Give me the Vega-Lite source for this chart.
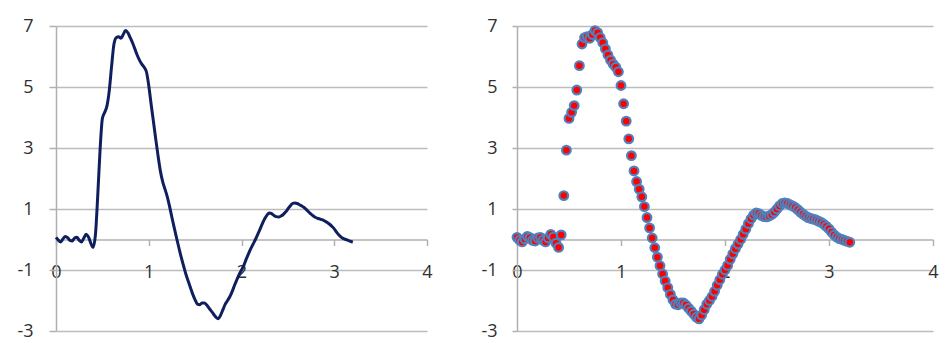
{
  "$schema": "https://vega.github.io/schema/vega-lite/v6.json",
  "background": "white",
  "padding": {"left": 16, "top": 17, "right": 0, "bottom": 4},
  "spacing": 47,
  "config": {
    "view": {"stroke": null},
    "axis": {
      "labelFont": "Open Sans",
      "labelFontSize": 18,
      "labelColor": "#303030",
      "labelFlush": false,
      "labelOverlap": false,
      "labelExpr": "'' + datum.value",
      "title": null,
      "domainColor": "#b0b0b0",
      "domainWidth": 1.5,
      "tickColor": "#b0b0b0",
      "tickWidth": 1.5,
      "gridColor": "#bcbcbc",
      "gridWidth": 1.5
    }
  },
  "datasets": {
    "d": [
      {"t": 0.000, "v": 0.07}, {"t": 0.025, "v": -0.02}, {"t": 0.050, "v": -0.08}, {"t": 0.075, "v": 0.02},
      {"t": 0.100, "v": 0.10}, {"t": 0.125, "v": 0.06}, {"t": 0.150, "v": -0.03}, {"t": 0.175, "v": -0.05},
      {"t": 0.200, "v": 0.05}, {"t": 0.225, "v": 0.07}, {"t": 0.250, "v": -0.02}, {"t": 0.275, "v": -0.08},
      {"t": 0.300, "v": 0.05}, {"t": 0.325, "v": 0.17}, {"t": 0.350, "v": 0.08}, {"t": 0.375, "v": -0.12},
      {"t": 0.400, "v": -0.26}, {"t": 0.425, "v": 0.15}, {"t": 0.450, "v": 1.44}, {"t": 0.475, "v": 2.93},
      {"t": 0.500, "v": 3.97}, {"t": 0.525, "v": 4.17}, {"t": 0.550, "v": 4.39}, {"t": 0.575, "v": 4.9},
      {"t": 0.600, "v": 5.7}, {"t": 0.625, "v": 6.41}, {"t": 0.650, "v": 6.62}, {"t": 0.675, "v": 6.65},
      {"t": 0.700, "v": 6.6}, {"t": 0.725, "v": 6.72}, {"t": 0.750, "v": 6.85}, {"t": 0.775, "v": 6.78},
      {"t": 0.800, "v": 6.62}, {"t": 0.825, "v": 6.45}, {"t": 0.850, "v": 6.25}, {"t": 0.875, "v": 6.05},
      {"t": 0.900, "v": 5.88}, {"t": 0.925, "v": 5.75}, {"t": 0.950, "v": 5.65}, {"t": 0.975, "v": 5.5},
      {"t": 1.000, "v": 5.05}, {"t": 1.025, "v": 4.45}, {"t": 1.050, "v": 3.88}, {"t": 1.075, "v": 3.3},
      {"t": 1.100, "v": 2.75}, {"t": 1.125, "v": 2.25}, {"t": 1.150, "v": 1.9}, {"t": 1.175, "v": 1.65},
      {"t": 1.200, "v": 1.4}, {"t": 1.225, "v": 1.08}, {"t": 1.250, "v": 0.72}, {"t": 1.275, "v": 0.38},
      {"t": 1.300, "v": 0.05}, {"t": 1.325, "v": -0.27}, {"t": 1.350, "v": -0.58}, {"t": 1.375, "v": -0.86},
      {"t": 1.400, "v": -1.13}, {"t": 1.425, "v": -1.36}, {"t": 1.450, "v": -1.58}, {"t": 1.475, "v": -1.8},
      {"t": 1.500, "v": -1.98}, {"t": 1.525, "v": -2.12}, {"t": 1.550, "v": -2.14}, {"t": 1.575, "v": -2.08},
      {"t": 1.600, "v": -2.08}, {"t": 1.625, "v": -2.15}, {"t": 1.650, "v": -2.25}, {"t": 1.675, "v": -2.35},
      {"t": 1.700, "v": -2.45}, {"t": 1.725, "v": -2.55}, {"t": 1.750, "v": -2.6}, {"t": 1.775, "v": -2.48},
      {"t": 1.800, "v": -2.3}, {"t": 1.825, "v": -2.12}, {"t": 1.850, "v": -2.0}, {"t": 1.875, "v": -1.87},
      {"t": 1.900, "v": -1.7}, {"t": 1.925, "v": -1.5}, {"t": 1.950, "v": -1.32}, {"t": 1.975, "v": -1.14},
      {"t": 2.000, "v": -1.0}, {"t": 2.025, "v": -0.85}, {"t": 2.050, "v": -0.65}, {"t": 2.075, "v": -0.47},
      {"t": 2.100, "v": -0.3}, {"t": 2.125, "v": -0.15}, {"t": 2.150, "v": 0.0}, {"t": 2.175, "v": 0.17},
      {"t": 2.200, "v": 0.34}, {"t": 2.225, "v": 0.52}, {"t": 2.250, "v": 0.68}, {"t": 2.275, "v": 0.8},
      {"t": 2.300, "v": 0.87}, {"t": 2.325, "v": 0.85}, {"t": 2.350, "v": 0.79}, {"t": 2.375, "v": 0.75},
      {"t": 2.400, "v": 0.74}, {"t": 2.425, "v": 0.77}, {"t": 2.450, "v": 0.82}, {"t": 2.475, "v": 0.9},
      {"t": 2.500, "v": 1.0}, {"t": 2.525, "v": 1.1}, {"t": 2.550, "v": 1.18}, {"t": 2.575, "v": 1.2},
      {"t": 2.600, "v": 1.18}, {"t": 2.625, "v": 1.14}, {"t": 2.650, "v": 1.1}, {"t": 2.675, "v": 1.05},
      {"t": 2.700, "v": 0.98}, {"t": 2.725, "v": 0.9}, {"t": 2.750, "v": 0.83}, {"t": 2.775, "v": 0.77},
      {"t": 2.800, "v": 0.72}, {"t": 2.825, "v": 0.69}, {"t": 2.850, "v": 0.67}, {"t": 2.875, "v": 0.64},
      {"t": 2.900, "v": 0.6}, {"t": 2.925, "v": 0.56}, {"t": 2.950, "v": 0.5}, {"t": 2.975, "v": 0.43},
      {"t": 3.000, "v": 0.35}, {"t": 3.025, "v": 0.24}, {"t": 3.050, "v": 0.15}, {"t": 3.075, "v": 0.08},
      {"t": 3.100, "v": 0.03}, {"t": 3.125, "v": 0.0}, {"t": 3.150, "v": -0.03}, {"t": 3.175, "v": -0.06},
      {"t": 3.200, "v": -0.09}
    ]
  },
  "hconcat": [
    {
      "width": 371,
      "height": 305,
      "data": {"name": "d"},
      "mark": {"type": "line", "color": "#0f1f5e", "strokeWidth": 3, "interpolate": "monotone"},
      "encoding": {
        "x": {
          "field": "t", "type": "quantitative",
          "scale": {"domain": [0, 4], "nice": false, "zero": false},
          "axis": {"values": [0, 1, 2, 3, 4], "grid": false, "offset": -91.5, "tickSize": 6, "labelPadding": 18}
        },
        "y": {
          "field": "v", "type": "quantitative",
          "scale": {"domain": [-3, 7], "nice": false, "zero": false},
          "axis": {"values": [-3, -1, 1, 3, 5, 7], "grid": true, "tickSize": 7, "labelPadding": 16}
        }
      }
    },
    {
      "width": 416,
      "height": 305,
      "data": {"name": "d"},
      "mark": {"type": "point", "filled": true, "shape": "circle", "fill": "#ff0000", "stroke": "#4f81bd", "strokeWidth": 2.2, "size": 75, "opacity": 1},
      "encoding": {
        "x": {
          "field": "t", "type": "quantitative",
          "scale": {"domain": [0, 4], "nice": false, "zero": false},
          "axis": {"values": [0, 1, 2, 3, 4], "grid": false, "offset": -91.5, "tickSize": 6, "labelPadding": 18}
        },
        "y": {
          "field": "v", "type": "quantitative",
          "scale": {"domain": [-3, 7], "nice": false, "zero": false},
          "axis": {"values": [-3, -1, 1, 3, 5, 7], "grid": true, "tickSize": 5, "labelPadding": 15}
        }
      }
    }
  ]
}
